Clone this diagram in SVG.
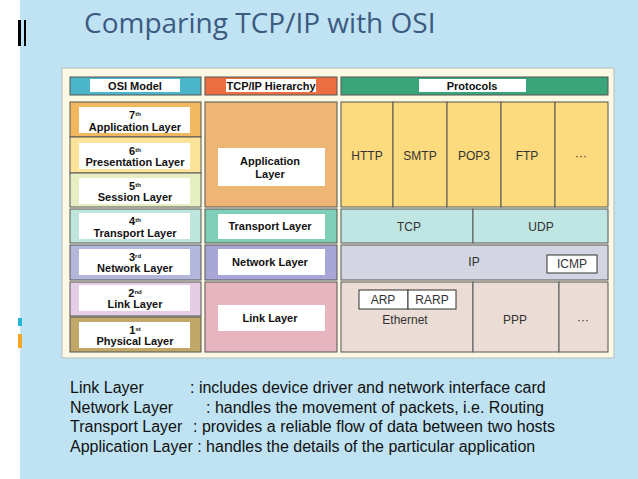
<svg xmlns="http://www.w3.org/2000/svg" width="638" height="479" viewBox="0 0 638 479">
<style>
.b{font-family:"Liberation Sans",Arial,sans-serif;font-weight:bold;font-size:11px;text-anchor:middle;fill:#111}
.s{font-size:6px}
.p{font-family:"Liberation Sans",Arial,sans-serif;font-size:12px;text-anchor:middle;fill:#333}
.c{stroke:#555;stroke-width:1}
.w{fill:#fff}
.t{font-family:"Liberation Sans",Arial,sans-serif;font-size:16px;fill:#111}
</style>
<rect width="638" height="479" fill="#fff"/>
<rect x="20" y="0" width="618" height="479" fill="#bfe3f3"/>
<rect x="18" y="20" width="3" height="26" fill="#000"/>
<rect x="24" y="20" width="2" height="26" fill="#000"/>
<rect x="18" y="318" width="4" height="8" fill="#29b6d6"/>
<rect x="18" y="334" width="4" height="14" fill="#f5a623"/>
<text x="84" y="33" font-family="Open Sans,Liberation Sans,sans-serif" font-size="28" fill="#3d5a80">Comparing TCP/IP with OSI</text>
<rect x="62" y="68" width="552" height="290" fill="#fbf8e4" stroke="#bbb"/>
<g id="headers">
<rect x="70" y="77" width="131" height="18" fill="#4bb5c9" class="c"/><rect x="90" y="79" width="90" height="13" class="w"/><text x="135" y="90" class="b">OSI Model</text>
<rect x="205" y="77" width="132" height="18" fill="#ec6f42" class="c"/><rect x="226" y="79" width="90" height="13" class="w"/><text x="271" y="90" class="b">TCP/IP Hierarchy</text>
<rect x="341" y="77" width="267" height="18" fill="#3aa57a" class="c"/><rect x="419" y="79" width="107" height="13" class="w"/><text x="472" y="90" class="b">Protocols</text>
</g>
<g id="osi">
<rect x="70" y="102" width="131" height="35" fill="#f1b860" class="c"/><rect x="79" y="107" width="111" height="26" class="w"/><text x="135" y="119" class="b">7<tspan class="s" dy="-3">th</tspan></text><text x="135" y="131" class="b">Application Layer</text>
<rect x="70" y="137" width="131" height="36" fill="#fbe39a" class="c"/><rect x="79" y="143" width="111" height="26" class="w"/><text x="135" y="155" class="b">6<tspan class="s" dy="-3">th</tspan></text><text x="135" y="166" class="b">Presentation Layer</text>
<rect x="70" y="173" width="131" height="34" fill="#e6efc2" class="c"/><rect x="79" y="178" width="111" height="26" class="w"/><text x="135" y="190" class="b">5<tspan class="s" dy="-3">th</tspan></text><text x="135" y="201" class="b">Session Layer</text>
<rect x="70" y="209" width="131" height="34" fill="#bfe6dc" class="c"/><rect x="79" y="213" width="111" height="26" class="w"/><text x="135" y="225" class="b">4<tspan class="s" dy="-3">th</tspan></text><text x="135" y="237" class="b">Transport Layer</text>
<rect x="70" y="245" width="131" height="35" fill="#b4b7dc" class="c"/><rect x="79" y="249" width="111" height="26" class="w"/><text x="135" y="261" class="b">3<tspan class="s" dy="-3">rd</tspan></text><text x="135" y="272" class="b">Network Layer</text>
<rect x="70" y="282" width="131" height="34" fill="#e5cde6" class="c"/><rect x="79" y="285" width="111" height="26" class="w"/><text x="135" y="297" class="b">2<tspan class="s" dy="-3">nd</tspan></text><text x="135" y="308" class="b">Link Layer</text>
<rect x="70" y="317" width="131" height="35" fill="#c2a868" class="c"/><rect x="79" y="322" width="111" height="26" class="w"/><text x="135" y="334" class="b">1<tspan class="s" dy="-3">st</tspan></text><text x="135" y="345" class="b">Physical Layer</text>
</g>
<g id="tcpip">
<rect x="205" y="102" width="132" height="105" fill="#eeb674" class="c"/><rect x="218" y="148" width="107" height="38" class="w"/><text x="270" y="165" class="b">Application</text><text x="270" y="178" class="b">Layer</text>
<rect x="205" y="209" width="132" height="34" fill="#7fcfb8" class="c"/><rect x="218" y="214" width="107" height="25" class="w"/><text x="270" y="230" class="b">Transport Layer</text>
<rect x="205" y="245" width="132" height="35" fill="#a7a6d6" class="c"/><rect x="218" y="249" width="107" height="26" class="w"/><text x="270" y="266" class="b">Network Layer</text>
<rect x="205" y="282" width="132" height="70" fill="#e6b5c0" class="c"/><rect x="218" y="305" width="107" height="26" class="w"/><text x="270" y="322" class="b">Link Layer</text>
</g>
<g id="protocols">
<rect x="341" y="102" width="52" height="105" fill="#fbdb7d" class="c"/><text x="367" y="160" class="p">HTTP</text>
<rect x="393" y="102" width="54" height="105" fill="#fbdb7d" class="c"/><text x="420" y="160" class="p">SMTP</text>
<rect x="447" y="102" width="54" height="105" fill="#fbdb7d" class="c"/><text x="474" y="160" class="p">POP3</text>
<rect x="501" y="102" width="54" height="105" fill="#fbdb7d" class="c"/><text x="527" y="160" class="p">FTP</text>
<rect x="555" y="102" width="53" height="105" fill="#fbdb7d" class="c"/><text x="581" y="160" class="p">···</text>
<rect x="341" y="209" width="132" height="34" fill="#bfe6e2" class="c"/><text x="409" y="231" class="p">TCP</text>
<rect x="473" y="209" width="135" height="34" fill="#bfe6e2" class="c"/><text x="541" y="231" class="p">UDP</text>
<rect x="341" y="245" width="267" height="35" fill="#d3d6e2" class="c"/><text x="474" y="266" class="p">IP</text>
<rect x="547" y="255" width="50" height="18" class="w" stroke="#333"/><text x="572" y="268" class="p">ICMP</text>
<rect x="341" y="282" width="132" height="70" fill="#ecdcd6" class="c"/>
<rect x="359" y="290" width="49" height="19" class="w" stroke="#333"/><text x="383" y="304" class="p">ARP</text>
<rect x="408" y="290" width="48" height="19" class="w" stroke="#333"/><text x="432" y="304" class="p">RARP</text>
<text x="405" y="324" class="p">Ethernet</text>
<rect x="473" y="282" width="86" height="70" fill="#ecdcd6" class="c"/><text x="515" y="324" class="p">PPP</text>
<rect x="559" y="282" width="49" height="70" fill="#ecdcd6" class="c"/><text x="583" y="324" class="p">···</text>
</g>
<g id="notes">
<text x="70" y="393" class="t">Link Layer</text><text x="190" y="393" class="t">: includes device driver and network interface card</text>
<text x="70" y="413" class="t">Network Layer</text><text x="206" y="413" class="t">: handles the movement of packets, i.e. Routing</text>
<text x="70" y="432" class="t">Transport Layer</text><text x="193" y="432" class="t">: provides a reliable flow of data between two hosts</text>
<text x="70" y="452" class="t">Application Layer : handles the details of the particular application</text>
</g>
<g id="connectors"></g>
</svg>
